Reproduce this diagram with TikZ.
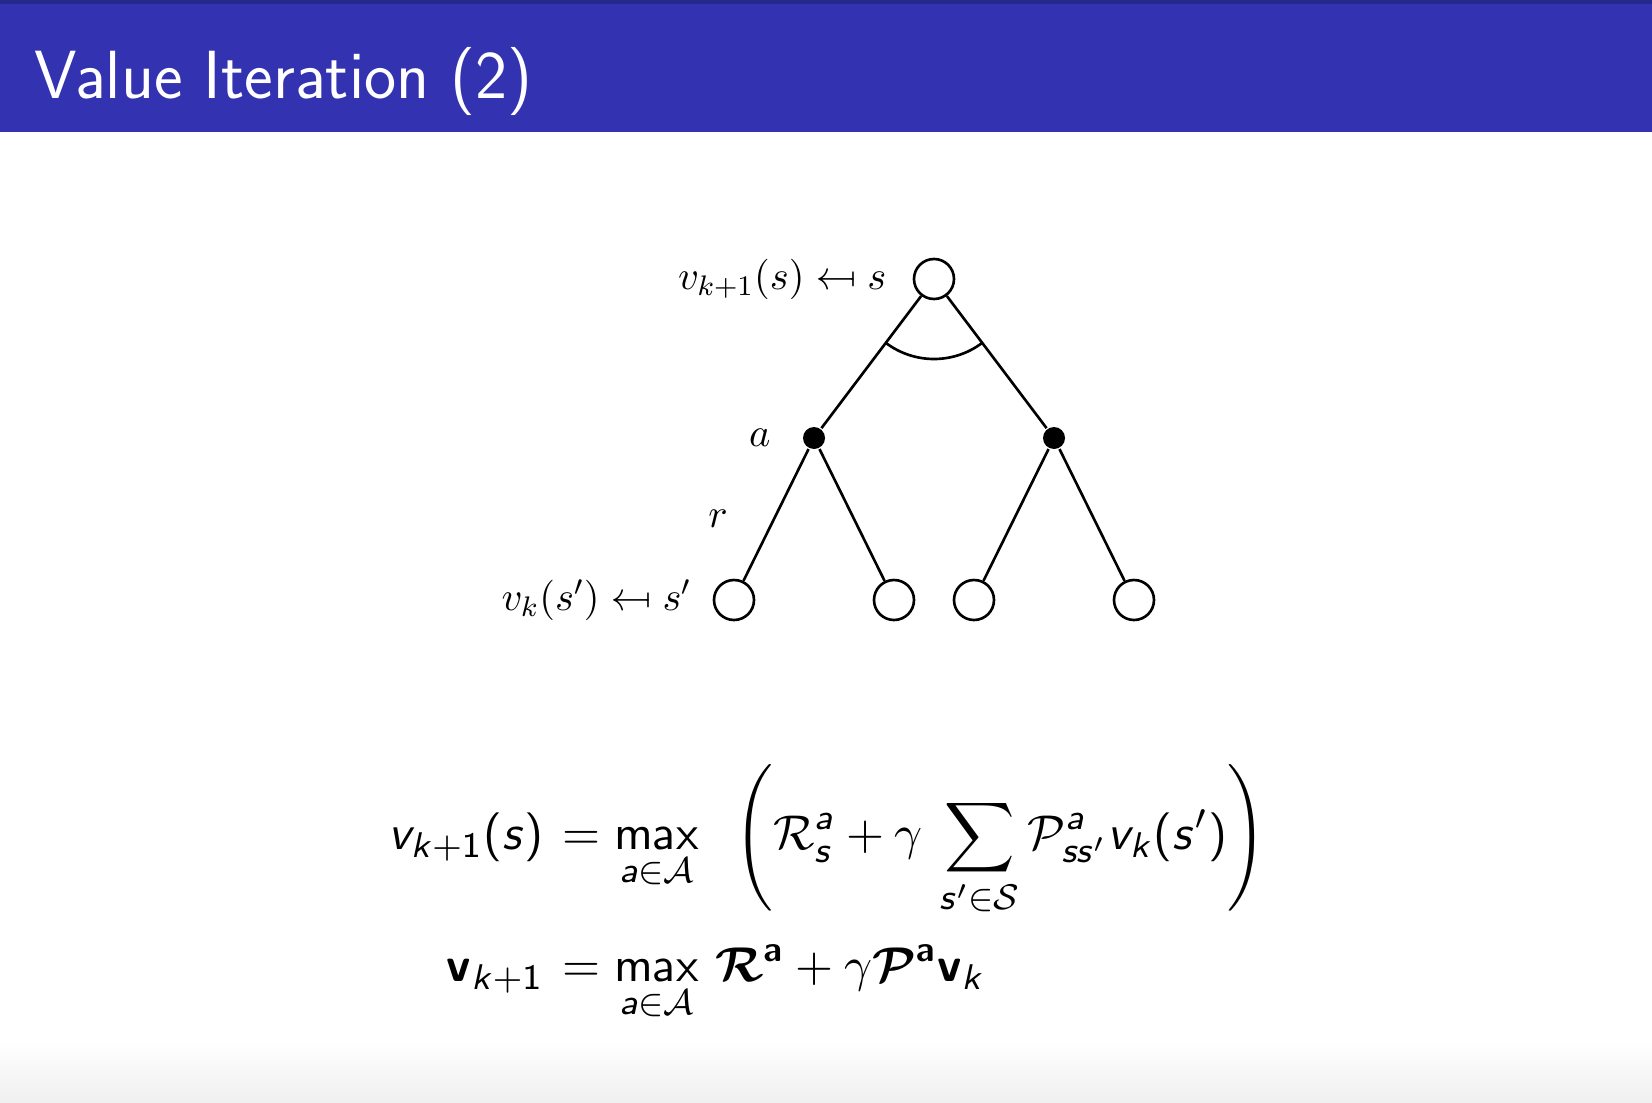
\RequirePackage{fix-cm}
\documentclass[tikz,border=0pt]{standalone}
\usepackage{amsmath}
\usetikzlibrary{positioning}

\definecolor{titleblue}{RGB}{51,51,178}
\definecolor{titledark}{RGB}{38,40,140}

% sans serif math, as on the slide
\DeclareMathVersion{sans}
\SetSymbolFont{operators}{sans}{OT1}{cmss}{m}{n}
\DeclareSymbolFont{sfletters}{OML}{cmm}{m}{it}
\SetSymbolFont{sfletters}{sans}{OT1}{cmss}{m}{sl}
\DeclareMathSymbol{a}{\mathalpha}{sfletters}{`a}
\DeclareMathSymbol{k}{\mathalpha}{sfletters}{`k}
\DeclareMathSymbol{s}{\mathalpha}{sfletters}{`s}
\DeclareMathSymbol{v}{\mathalpha}{sfletters}{`v}
\SetMathAlphabet{\mathbf}{sans}{OT1}{cmss}{bx}{n}

\newcommand{\mapsback}{\mathrel{\reflectbox{$\mapsto$}}}
\newsavebox{\bellmanbox}

\begin{document}
\sbox{\bellmanbox}{\fontsize{10.95}{13.6}\selectfont\mathversion{sans}%
  $\displaystyle\begin{aligned}
    v_{k+1}(s) &\mkern2mu= \max_{a\in\mathcal{A}}\mkern10mu\left(\mathcal{R}^a_s+\gamma\,\sum_{s'\in\mathcal{S}}\mathcal{P}^a_{ss'}v_k(s')\right)\\[1pt]
    \mathbf{v}_{k+1} &\mkern2mu= \max_{a\in\mathcal{A}}\,\boldsymbol{\mathcal{R}}^{\mathbf{a}}+\gamma\boldsymbol{\mathcal{P}}^{\mathbf{a}}\mathbf{v}_k
  \end{aligned}$}%
\begin{tikzpicture}[line width=0.75pt,
    snode/.style = {circle, draw, fill=white, minimum size=0.4cm, inner sep=0},
    anode/.style = {circle, fill, minimum size=0.22cm, inner sep=0},
    lbl/.style = {inner sep=0, font=\fontsize{11.5}{14}\selectfont}]
  \useasboundingbox (0,0) rectangle (16.52,11.02);
  \shade[top color=white, bottom color=black!6] (0,0) rectangle (16.52,0.62);
  \fill[titleblue] (0,9.70) rectangle (16.52,11.02);
  \fill[titledark] (0,10.98) rectangle (16.52,11.02);
  \node[anchor=base west, inner sep=0, text=white,
    font=\sffamily\fontsize{19.4}{23}\selectfont] (title) at (0.33,10.03)
    {Value Iteration (2)};

  % backup tree
  \node[snode] (root-s) at (9.34,8.23) {};
  \node[anode, on grid, below left = 1.59 and 1.2 of root-s] (act-1) {};
  \node[anode, on grid, below right = 1.59 and 1.2 of root-s] (act-2) {};
  \node[snode, on grid, below left = 1.62 and 0.8 of act-1] (leaf-1) {};
  \node[snode, on grid, below right = 1.62 and 0.8 of act-1] (leaf-2) {};
  \node[snode, on grid, below left = 1.62 and 0.8 of act-2] (leaf-3) {};
  \node[snode, on grid, below right = 1.62 and 0.8 of act-2] (leaf-4) {};
  \foreach \x in {1, 2}{
    \draw (root-s) -- (act-\x);
  }
  \foreach \p/\c in {1/1, 1/2, 2/3, 2/4}{
    \draw (act-\p) -- (leaf-\c);
  }
  \draw (root-s.center) ++(233:0.8) arc[start angle=233, end angle=307, radius=0.8];

  \node[lbl, left = 0.25 of root-s] (root-s-t) {$v_{k+1}(s) \mapsback s$};
  \node[lbl, left = 0.3 of act-1] (act-1-t) {$a$};
  \path (act-1.center) -- (leaf-1.center)
    node[lbl, midway, left = 0.45] (reward-t) {$r$};
  \node[lbl, left = 0.2 of leaf-1] (leaf-1-t) {$v_k(s') \mapsback s'$};

  % bellman optimality backup
  \node[inner sep=0, scale=1.27, transform shape] (bellman) at (8.27,2.09)
    {\usebox{\bellmanbox}};
\end{tikzpicture}
\end{document}
